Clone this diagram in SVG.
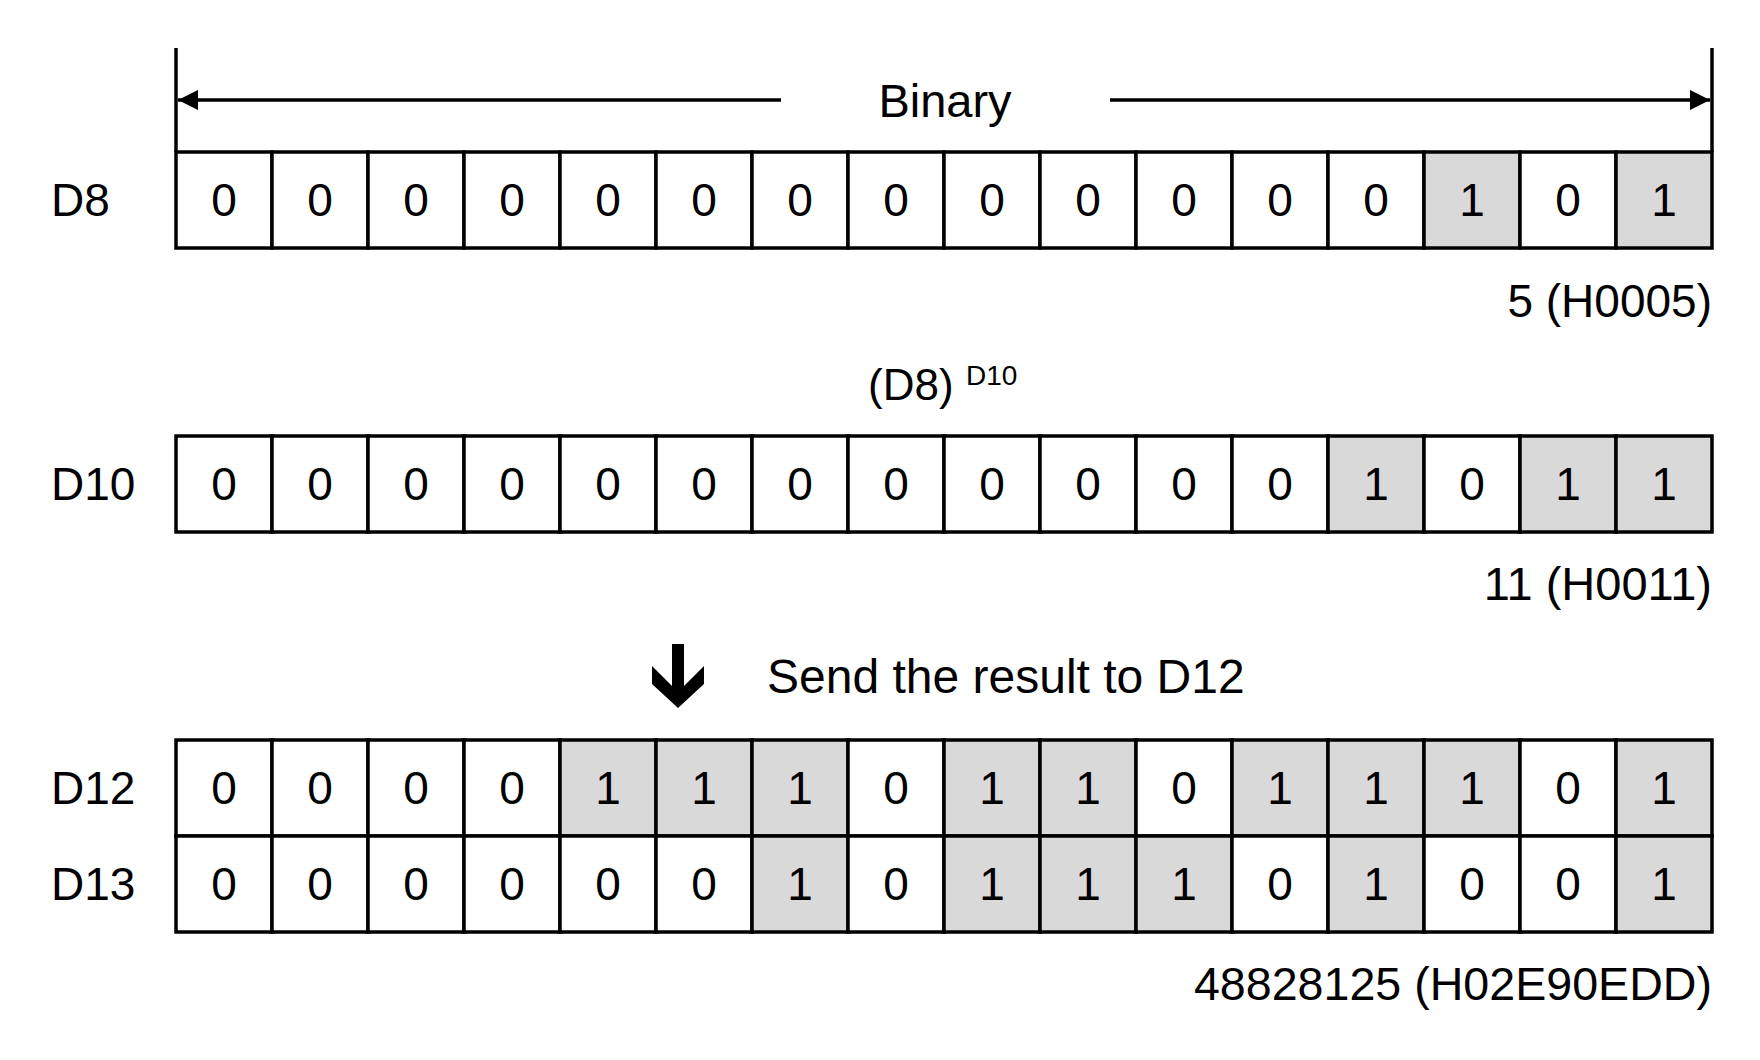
<svg xmlns="http://www.w3.org/2000/svg" width="1760" height="1060" viewBox="0 0 1760 1060">
<defs>
<style>
.t{font-family:"Liberation Sans",Arial,sans-serif;fill:#000}
.lbl{font-size:46px}
.d{font-size:46px;text-anchor:middle}
.c{fill:#fff;stroke:#000;stroke-width:3.5}
.g{fill:#d9d9d9;stroke:#000;stroke-width:3.5}
.ln{stroke:#000;stroke-width:3.5;fill:none}
</style>
<marker id="ah" viewBox="0 0 20 20" refX="20" refY="10" markerWidth="20" markerHeight="20" markerUnits="userSpaceOnUse" orient="auto-start-reverse">
<path d="M0,0 L20,10 L0,20 Z" fill="#000"/>
</marker>
</defs>
<rect width="1760" height="1060" fill="#fff"/>

<g id="connectors">
<line class="ln" x1="176" y1="48" x2="176" y2="152"/>
<line class="ln" x1="1712" y1="48" x2="1712" y2="152"/>
<line class="ln" x1="178" y1="100" x2="781" y2="100" marker-start="url(#ah)"/>
<line class="ln" x1="1110" y1="100" x2="1710" y2="100" marker-end="url(#ah)"/>
<polygon points="672,644 684,644 684,686 704,666 704,684 678,708 652,684 652,666 672,686" fill="#000"/>
</g>

<g id="binary-label"><text class="t" x="945" y="117" font-size="47" text-anchor="middle">Binary</text></g>

<g id="D8">
<text class="t lbl" x="51" y="216">D8</text>
<rect class="c" x="176" y="152" width="96" height="96"/><rect class="c" x="272" y="152" width="96" height="96"/><rect class="c" x="368" y="152" width="96" height="96"/><rect class="c" x="464" y="152" width="96" height="96"/><rect class="c" x="560" y="152" width="96" height="96"/><rect class="c" x="656" y="152" width="96" height="96"/><rect class="c" x="752" y="152" width="96" height="96"/><rect class="c" x="848" y="152" width="96" height="96"/><rect class="c" x="944" y="152" width="96" height="96"/><rect class="c" x="1040" y="152" width="96" height="96"/><rect class="c" x="1136" y="152" width="96" height="96"/><rect class="c" x="1232" y="152" width="96" height="96"/><rect class="c" x="1328" y="152" width="96" height="96"/><rect class="g" x="1424" y="152" width="96" height="96"/><rect class="c" x="1520" y="152" width="96" height="96"/><rect class="g" x="1616" y="152" width="96" height="96"/>
<text class="t d" y="216"><tspan x="224">0</tspan><tspan x="320">0</tspan><tspan x="416">0</tspan><tspan x="512">0</tspan><tspan x="608">0</tspan><tspan x="704">0</tspan><tspan x="800">0</tspan><tspan x="896">0</tspan><tspan x="992">0</tspan><tspan x="1088">0</tspan><tspan x="1184">0</tspan><tspan x="1280">0</tspan><tspan x="1376">0</tspan><tspan x="1472">1</tspan><tspan x="1568">0</tspan><tspan x="1664">1</tspan></text>
<text class="t lbl" x="1712" y="317" text-anchor="end">5 (H0005)</text>
</g>

<g id="expr">
<text class="t" x="868" y="400" font-size="44">(D8)</text>
<text class="t" x="966" y="385" font-size="28">D10</text>
</g>

<g id="D10">
<text class="t lbl" x="51" y="500">D10</text>
<rect class="c" x="176" y="436" width="96" height="96"/><rect class="c" x="272" y="436" width="96" height="96"/><rect class="c" x="368" y="436" width="96" height="96"/><rect class="c" x="464" y="436" width="96" height="96"/><rect class="c" x="560" y="436" width="96" height="96"/><rect class="c" x="656" y="436" width="96" height="96"/><rect class="c" x="752" y="436" width="96" height="96"/><rect class="c" x="848" y="436" width="96" height="96"/><rect class="c" x="944" y="436" width="96" height="96"/><rect class="c" x="1040" y="436" width="96" height="96"/><rect class="c" x="1136" y="436" width="96" height="96"/><rect class="c" x="1232" y="436" width="96" height="96"/><rect class="g" x="1328" y="436" width="96" height="96"/><rect class="c" x="1424" y="436" width="96" height="96"/><rect class="g" x="1520" y="436" width="96" height="96"/><rect class="g" x="1616" y="436" width="96" height="96"/>
<text class="t d" y="500"><tspan x="224">0</tspan><tspan x="320">0</tspan><tspan x="416">0</tspan><tspan x="512">0</tspan><tspan x="608">0</tspan><tspan x="704">0</tspan><tspan x="800">0</tspan><tspan x="896">0</tspan><tspan x="992">0</tspan><tspan x="1088">0</tspan><tspan x="1184">0</tspan><tspan x="1280">0</tspan><tspan x="1376">1</tspan><tspan x="1472">0</tspan><tspan x="1568">1</tspan><tspan x="1664">1</tspan></text>
<text class="t" x="1712" y="600" font-size="47" text-anchor="end">11 (H0011)</text>
</g>

<g id="send-label"><text class="t" x="767" y="693" font-size="48">Send the result to D12</text></g>

<g id="D12">
<text class="t lbl" x="51" y="804">D12</text>
<rect class="c" x="176" y="740" width="96" height="96"/><rect class="c" x="272" y="740" width="96" height="96"/><rect class="c" x="368" y="740" width="96" height="96"/><rect class="c" x="464" y="740" width="96" height="96"/><rect class="g" x="560" y="740" width="96" height="96"/><rect class="g" x="656" y="740" width="96" height="96"/><rect class="g" x="752" y="740" width="96" height="96"/><rect class="c" x="848" y="740" width="96" height="96"/><rect class="g" x="944" y="740" width="96" height="96"/><rect class="g" x="1040" y="740" width="96" height="96"/><rect class="c" x="1136" y="740" width="96" height="96"/><rect class="g" x="1232" y="740" width="96" height="96"/><rect class="g" x="1328" y="740" width="96" height="96"/><rect class="g" x="1424" y="740" width="96" height="96"/><rect class="c" x="1520" y="740" width="96" height="96"/><rect class="g" x="1616" y="740" width="96" height="96"/>
<text class="t d" y="804"><tspan x="224">0</tspan><tspan x="320">0</tspan><tspan x="416">0</tspan><tspan x="512">0</tspan><tspan x="608">1</tspan><tspan x="704">1</tspan><tspan x="800">1</tspan><tspan x="896">0</tspan><tspan x="992">1</tspan><tspan x="1088">1</tspan><tspan x="1184">0</tspan><tspan x="1280">1</tspan><tspan x="1376">1</tspan><tspan x="1472">1</tspan><tspan x="1568">0</tspan><tspan x="1664">1</tspan></text>
</g>

<g id="D13">
<text class="t lbl" x="51" y="900">D13</text>
<rect class="c" x="176" y="836" width="96" height="96"/><rect class="c" x="272" y="836" width="96" height="96"/><rect class="c" x="368" y="836" width="96" height="96"/><rect class="c" x="464" y="836" width="96" height="96"/><rect class="c" x="560" y="836" width="96" height="96"/><rect class="c" x="656" y="836" width="96" height="96"/><rect class="g" x="752" y="836" width="96" height="96"/><rect class="c" x="848" y="836" width="96" height="96"/><rect class="g" x="944" y="836" width="96" height="96"/><rect class="g" x="1040" y="836" width="96" height="96"/><rect class="g" x="1136" y="836" width="96" height="96"/><rect class="c" x="1232" y="836" width="96" height="96"/><rect class="g" x="1328" y="836" width="96" height="96"/><rect class="c" x="1424" y="836" width="96" height="96"/><rect class="c" x="1520" y="836" width="96" height="96"/><rect class="g" x="1616" y="836" width="96" height="96"/>
<text class="t d" y="900"><tspan x="224">0</tspan><tspan x="320">0</tspan><tspan x="416">0</tspan><tspan x="512">0</tspan><tspan x="608">0</tspan><tspan x="704">0</tspan><tspan x="800">1</tspan><tspan x="896">0</tspan><tspan x="992">1</tspan><tspan x="1088">1</tspan><tspan x="1184">1</tspan><tspan x="1280">0</tspan><tspan x="1376">1</tspan><tspan x="1472">0</tspan><tspan x="1568">0</tspan><tspan x="1664">1</tspan></text>
<text class="t" x="1712" y="1000" font-size="46.6" text-anchor="end">48828125 (H02E90EDD)</text>
</g>
</svg>
